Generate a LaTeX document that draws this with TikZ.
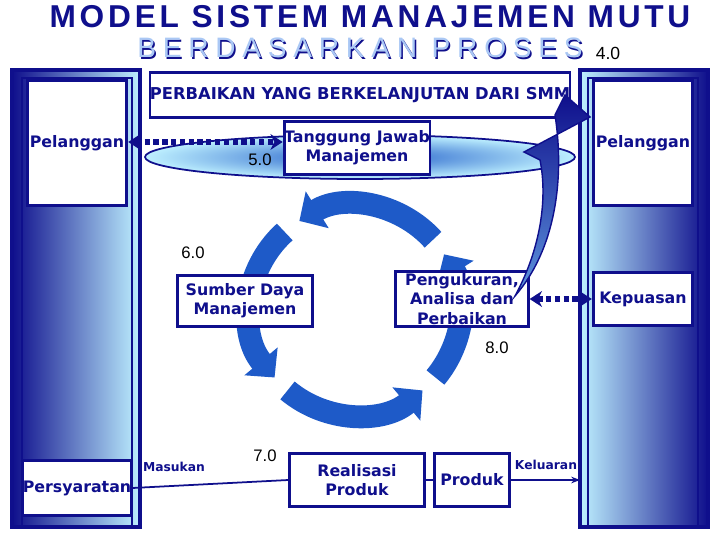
\documentclass[tikz,border=0pt]{standalone}
\usepackage{fontspec}
\setmainfont{DejaVu Sans}
\newfontfamily\numfont{Liberation Sans}
\newfontfamily\tfontA[LetterSpace=12]{Liberation Sans}
\newfontfamily\tfontB[LetterSpace=24]{Liberation Sans}
\usetikzlibrary{arrows.meta,shadings}
\definecolor{navy}{RGB}{15,15,140}
\definecolor{lcyan}{RGB}{190,240,255}
\definecolor{mblue}{RGB}{30,90,200}
\definecolor{tblue}{RGB}{170,200,245}
\begin{document}
\begin{tikzpicture}[x=0.02cm,y=-0.02cm,
  wbox/.style={draw=navy,line width=1.6pt,fill=white,text=navy,font=\bfseries\fontsize{9}{11}\selectfont,align=center,inner sep=0pt},
  num/.style={font=\numfont\fontsize{9.5}{11}\selectfont},
  conn/.style={navy,line width=1pt},
  dots/.style={navy,line width=3pt,dash pattern=on 3pt off 2pt,{Stealth[length=7pt,width=9pt]}-{Stealth[length=7pt,width=9pt]}},
  cyc/.style={line width=13pt,-{Triangle[length=12pt,width=24pt]}}]
\useasboundingbox (0,0) rectangle (720,540);
\fill[white] (0,0) rectangle (720,540);
% title
\node[font=\tfontA\bfseries\fontsize{18}{20}\selectfont,text=navy,inner sep=0pt] (t1) at (370,17) {MODEL SISTEM MANAJEMEN MUTU};
\node[font=\tfontB\fontsize{16}{18}\selectfont,text=navy,inner sep=0pt] (t2s) at (361.5,49.5) {BERDASARKAN PROSES};
\node[font=\tfontB\fontsize{16}{18}\selectfont,text=tblue,inner sep=0pt] (t2) at (360,48) {BERDASARKAN PROSES};
\node[num,font=\numfont\fontsize{10}{12}\selectfont] (n4) at (608,53) {4.0};
% columns
\shade[left color=navy,right color=lcyan] (12,70) rectangle (140,527);
\draw[navy,line width=2pt] (12,70) rectangle (140,527);
\draw[navy,line width=1pt] (22,78) rectangle (132,527);
\shade[left color=lcyan,right color=navy] (580,70) rectangle (708,527);
\draw[navy,line width=2pt] (580,70) rectangle (708,527);
\draw[navy,line width=1pt] (588,78) rectangle (698,527);
\node[wbox,minimum width=100*0.567pt,minimum height=125*0.567pt] (pl) at (77,143) {Pelanggan};
\node[wbox,minimum width=100*0.567pt,minimum height=55*0.567pt] (ps) at (77,488) {Persyaratan};
\node[wbox,minimum width=100*0.567pt,minimum height=125*0.567pt] (pr) at (643,143) {Pelanggan};
\node[wbox,minimum width=100*0.567pt,minimum height=53*0.567pt] (kp) at (643,299) {Kepuasan};
% top box
\node[wbox,minimum width=420*0.567pt,minimum height=45*0.567pt,font=\bfseries\fontsize{9.3}{11}\selectfont] (top) at (360,95) {PERBAIKAN YANG BERKELANJUTAN DARI SMM};
% ellipse
\shade[inner color=mblue,outer color=lcyan,draw=navy,line width=1pt] (360,157) ellipse [x radius=215, y radius=22];
\node[wbox,minimum width=135*0.567pt,minimum height=53*0.567pt] (tj) at (357,148) {Tanggung Jawab\\Manajemen};
\draw[dots] (pl.east) ++(0,-1) coordinate (a1) -- (tj.west |- a1);
\node[num] (n5) at (260,160) {5.0};
% cycle arrows
\draw[cyc,mblue] (355,310) ++(318:105) arc[start angle=318,end angle=238,radius=105];
\draw[cyc,mblue] (355,310) ++(228:105) arc[start angle=228,end angle=140,radius=105];
\draw[cyc,mblue] (355,310) ++(130:105) arc[start angle=130,end angle=50,radius=105];
\draw[cyc,mblue] (355,310) ++(40:105) arc[start angle=40,end angle=-32,radius=105];
\node[wbox,minimum width=136*0.567pt,minimum height=52*0.567pt] (sd) at (245,301) {Sumber Daya\\Manajemen};
\node[num] (n6) at (193,253) {6.0};
\node[wbox,minimum width=133*0.567pt,minimum height=55*0.567pt] (pa) at (462,299) {Pengukuran,\\Analisa dan\\Perbaikan};
\node[num] (n8) at (497,348) {8.0};
% big curved arrow
\shade[top color=navy,bottom color=mblue!60!lcyan,draw=navy,line width=0.8pt]
  (515,296) .. controls (540,250) and (548,200) .. (540,160)
  -- (524,152) -- (590,117) -- (565,95) -- (555,115)
  .. controls (565,180) and (555,250) .. (515,296) -- cycle;
\draw[dots] (pa.east) -- (kp.west);
% bottom row
\node[wbox,minimum width=135*0.567pt,minimum height=54*0.567pt] (rp) at (357,480) {Realisasi\\Produk};
\node[wbox,minimum width=75*0.567pt,minimum height=54*0.567pt] (pd) at (472,480) {Produk};
\node[num] (n7) at (265,456) {7.0};
\draw[conn] (ps.east) -- (rp.west);
\draw[conn] (rp.east) -- (pd.west);
\coordinate (out) at (580,480);
\draw[conn,-{Stealth[length=5pt]}] (pd.east) -- (out);
\node[text=navy,font=\bfseries\fontsize{7}{8}\selectfont] (ms) at (174,467) {Masukan};
\node[text=navy,font=\bfseries\fontsize{7}{8}\selectfont] (kl) at (546,465) {Keluaran};
\end{tikzpicture}
\end{document}
